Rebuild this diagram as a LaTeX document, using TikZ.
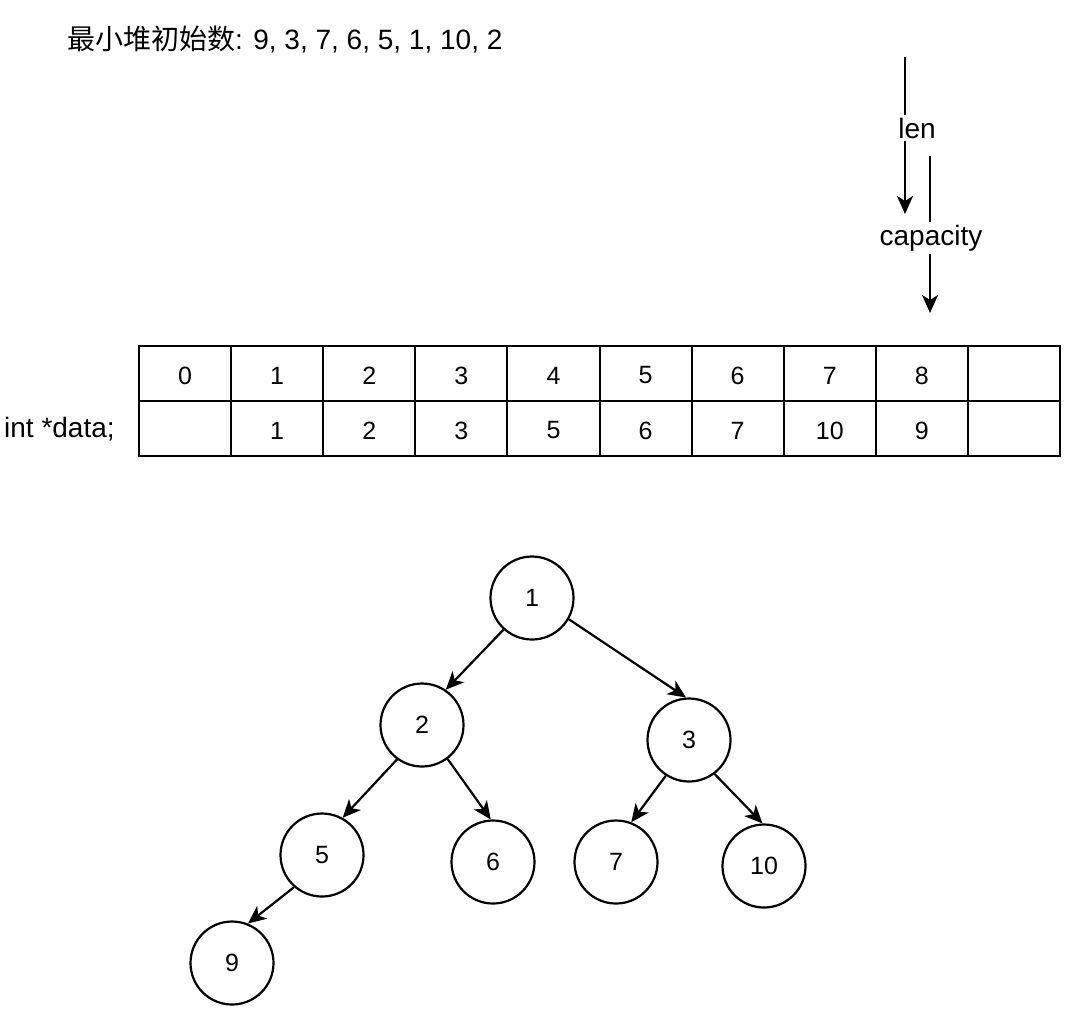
\documentclass[tikz,border=0pt]{standalone}
\usepackage{fontspec}
\setmainfont{Liberation Sans}
\newfontfamily\cjk{Noto Sans CJK SC}
\usetikzlibrary{arrows.meta,shapes.geometric}
\begin{document}
\begin{tikzpicture}[x=1pt,y=-1pt,
  every node/.style={font=\fontsize{25}{29}\selectfont, inner sep=0pt},
  lbl/.style={font=\fontsize{28}{32}\selectfont},
  cellbox/.style={draw, line width=2pt, minimum width=92.1pt, minimum height=55pt, anchor=north west},
  hnode/.style={draw, circle, line width=2.2pt, minimum size=83pt},
  arr/.style={-{Stealth[length=18pt,width=16pt,inset=5pt]}, line width=2.2pt}]
\path[use as bounding box, fill=white] (0,0) rectangle (1083,1023);

% title
\node[anchor=west, font=\fontsize{28}{32}\selectfont] (title) at (67,40) {{\cjk 最小堆初始数}: 9, 3, 7, 6, 5, 1, 10, 2};

% len / capacity pointers
\coordinate (lenS) at (905,57);
\coordinate (lenE) at (905,214);
\coordinate (capS) at (930,156);
\coordinate (capE) at (930,313);
\draw[arr] (lenS) -- (lenE);
\draw[arr] (capS) -- (capE);
\node[lbl, fill=white, inner sep=3pt] (len) at (917,128) {len};
\node[lbl, fill=white, inner sep=3pt] (cap) at (931,238) {capacity};

% array
\foreach \i/\h/\d in {0/0/{},1/1/1,2/2/2,3/3/3,4/4/5,5/5/6,6/6/7,7/7/10,8/8/9,9/{}/{}}{
  \node[cellbox] (h\i) at ({138+92.1*\i},345) {};
  \node[cellbox] (d\i) at ({138+92.1*\i},400) {};
  \node at ([yshift=-2pt]h\i.center) {\h};
  \node at ([yshift=-2pt]d\i.center) {\d};
}
\node[lbl, anchor=west] (intdata) at (4,429) {int *data;};

% heap tree
\node[hnode] (n1) at (532,598) {1};
\node[hnode] (n2) at (422,725) {2};
\node[hnode] (n3) at (689,740) {3};
\node[hnode] (n5) at (322,855) {5};
\node[hnode] (n6) at (493,862) {6};
\node[hnode] (n7) at (616,862) {7};
\node[hnode] (n10) at (764,866) {10};
\node[hnode] (n9) at (232,963) {9};

\draw[arr] (n1.228) -- (n2.56);
\draw[arr] (n1.-30) -- (n3.94);
\draw[arr] (n2.234) -- (n5.61);
\draw[arr] (n2.-53) -- (n6.93);
\draw[arr] (n3.237) -- (n7.69);
\draw[arr] (n3.-53) -- (n10.92);
\draw[arr] (n5.229) -- (n9.68);
\end{tikzpicture}
\end{document}
